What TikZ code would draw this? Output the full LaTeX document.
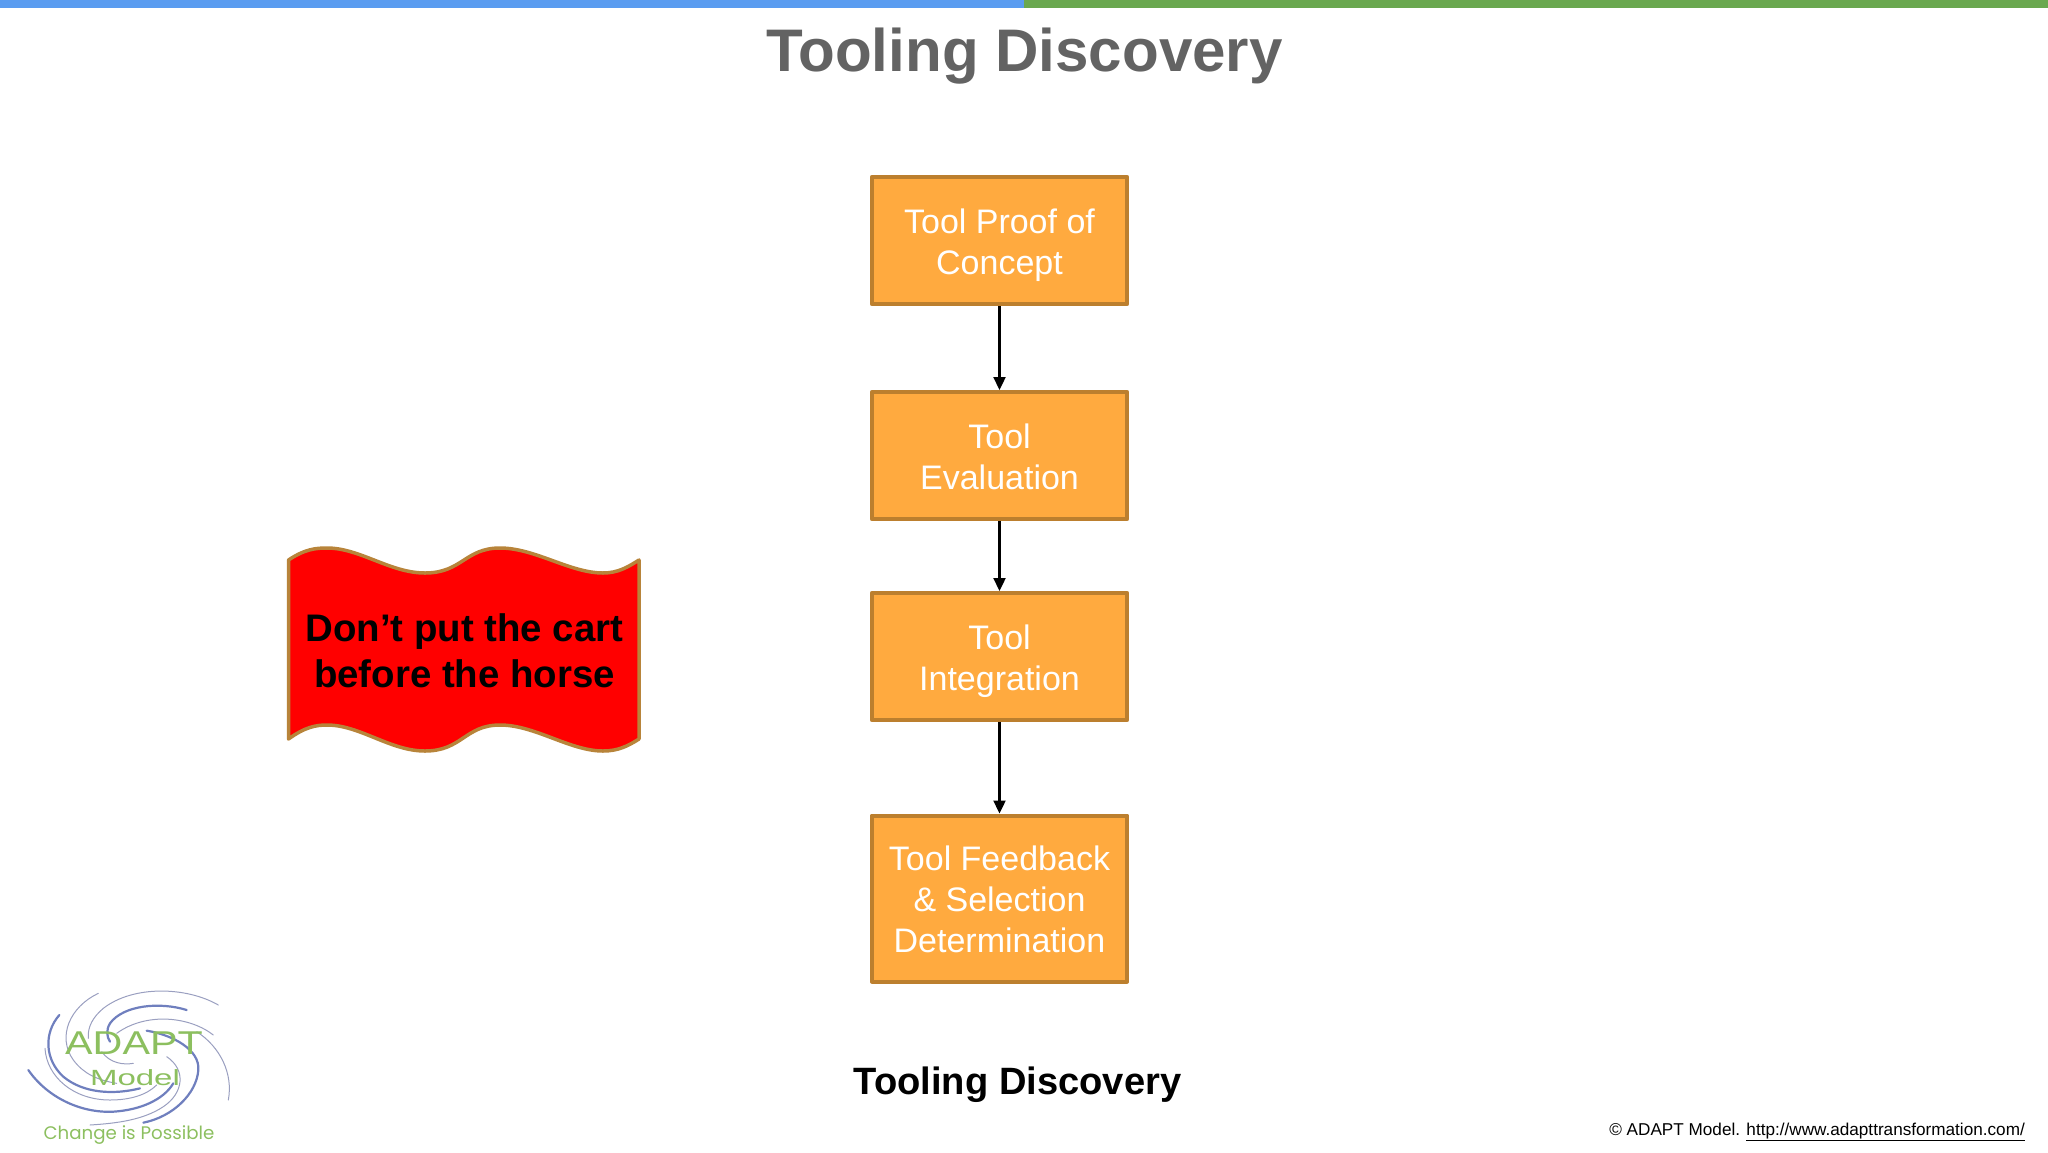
\documentclass[tikz,border=0pt]{standalone}
\usepackage{fontspec}
\setmainfont{Liberation Sans}
\newfontfamily\logofont{Poppins}
\usepackage{xcolor}
\usetikzlibrary{arrows.meta}

\definecolor{boxfill}{HTML}{FFAA3F}
\definecolor{boxline}{HTML}{BC7F2E}
\definecolor{flagline}{HTML}{B8843A}
\definecolor{logogreen}{HTML}{8CBF5F}
\definecolor{logoblue}{HTML}{6F7FBE}
\definecolor{logogrey}{HTML}{9A9FC0}

\tikzset{
  toolbox/.style={draw=boxline, fill=boxfill, line width=4pt, line join=round, minimum width=255.5pt,
    inner sep=0pt, align=center, text=white, font=\fontsize{34}{41}\selectfont},
  flow/.style={line width=2.3pt, -{Triangle[length=13pt,width=12pt]}},
  swirl/.style={draw=logogrey, line width=1pt, line cap=round},
  swirlbold/.style={draw=logoblue, line width=2.2pt, line cap=round}
}

\begin{document}
\begin{tikzpicture}[x=1pt, y=-1pt]
\useasboundingbox (0,0) rectangle (2048,1152);

% top bars
\fill[color={rgb,255:red,90;green,156;blue,240}] (0,0) rectangle (1024,8);
\fill[color={rgb,255:red,106;green,168;blue,79}] (1024,0) rectangle (2048,8);

% title
\node[text=black!61, font=\fontsize{60.1}{66}\selectfont\bfseries] (title) at (1024.5,56) {Tooling Discovery};

% boxes
\node[toolbox, minimum height=127pt, text height=75pt] (poc) at (999.5,240.5) {Tool Proof of\\Concept};
\node[toolbox, minimum height=127pt, text height=69.3pt] (eval) at (999.5,455.5) {Tool\\Evaluation};
\node[toolbox, minimum height=127pt, text height=74.8pt] (integ) at (999.5,656.5) {Tool\\Integration};
\node[toolbox, minimum height=166pt, text height=108.5pt] (feedback) at (999.5,898.5) {Tool Feedback\\\& Selection\\Determination};

% arrows
\draw[flow] (poc) -- (eval);
\draw[flow] (eval) -- (integ);
\draw[flow] (integ) -- (feedback);

% flag
\draw[draw=flagline, fill=red, line width=3.5pt, line join=round]
  (288.5,560) .. controls (305,549) and (316,548) .. (327,548)
  .. controls (360,548) and (390,573) .. (425,573)
  .. controls (462,573) and (465,548) .. (500,548)
  .. controls (535,548) and (570,573) .. (603,573)
  .. controls (618,573) and (628,567) .. (639,560)
  -- (639,739)
  .. controls (628,746) and (618,751) .. (603,751)
  .. controls (570,751) and (535,725) .. (500,725)
  .. controls (465,725) and (462,751) .. (425,751)
  .. controls (390,751) and (360,725) .. (327,725)
  .. controls (316,725) and (305,727) .. (288.5,739)
  -- cycle;
\node[align=center, font=\fontsize{38.4}{46}\selectfont\bfseries] (cart) at (464.5,651) {Don’t put the cart\\before the horse};

% caption and footer
\node[font=\fontsize{38.1}{44}\selectfont\bfseries] (caption) at (1017.5,1084.5) {Tooling Discovery};
\node[anchor=east, inner sep=0pt, font=\fontsize{17.15}{20}\selectfont] (copy) at (2025,1132) {© ADAPT Model. \underline{http://www.adapttransformation.com/}};

% logo
\begin{scope}[shift={(0,960)}, scale=1/3]
\draw[swirl] (655,135) .. controls (560,80) and (400,75) .. (310,145) .. controls (280,170) and (262,200) .. (265,235);
\draw[swirlbold] (560,150) .. controls (480,125) and (370,135) .. (330,190) .. controls (318,210) and (320,230) .. (330,245);
\draw[swirl] (640,225) .. controls (570,170) and (440,155) .. (350,220);
\draw[swirlbold] (440,212) .. controls (520,225) and (600,270) .. (595,330) .. controls (590,400) and (520,470) .. (430,488);
\draw[swirl] (590,215) .. controls (660,260) and (700,340) .. (685,420);
\draw[swirl] (500,290) .. controls (560,330) and (550,400) .. (490,440) .. controls (430,480) and (350,490) .. (270,495);
\draw[swirlbold] (178,165) .. controls (130,220) and (135,300) .. (190,350) .. controls (250,400) and (340,405) .. (420,385);
\draw[swirl] (295,100) .. controls (210,140) and (170,230) .. (220,300) .. controls (250,340) and (290,360) .. (350,370);
\draw[swirl] (135,265) .. controls (140,350) and (220,420) .. (330,420) .. controls (390,420) and (440,405) .. (470,375);
\draw[swirlbold] (85,330) .. controls (140,410) and (240,460) .. (340,455) .. controls (420,450) and (490,420) .. (520,370);
\draw[swirl] (305,275) .. controls (330,310) and (370,315) .. (400,310);
\node[text=logogreen, xscale=1.25, inner sep=0pt, font=\fontsize{33}{33}\selectfont] (adapt) at (402,250) {ADAPT};
\node[text=logogreen, xscale=1.5, inner sep=0pt, font=\fontsize{22}{22}\selectfont] (model) at (405,354) {Model};
\node[text=logogreen, inner sep=0pt, font=\logofont\fontsize{18.2}{18}\selectfont] (slogan) at (387,524) {Change is Possible};
\end{scope}
\end{tikzpicture}
\end{document}
